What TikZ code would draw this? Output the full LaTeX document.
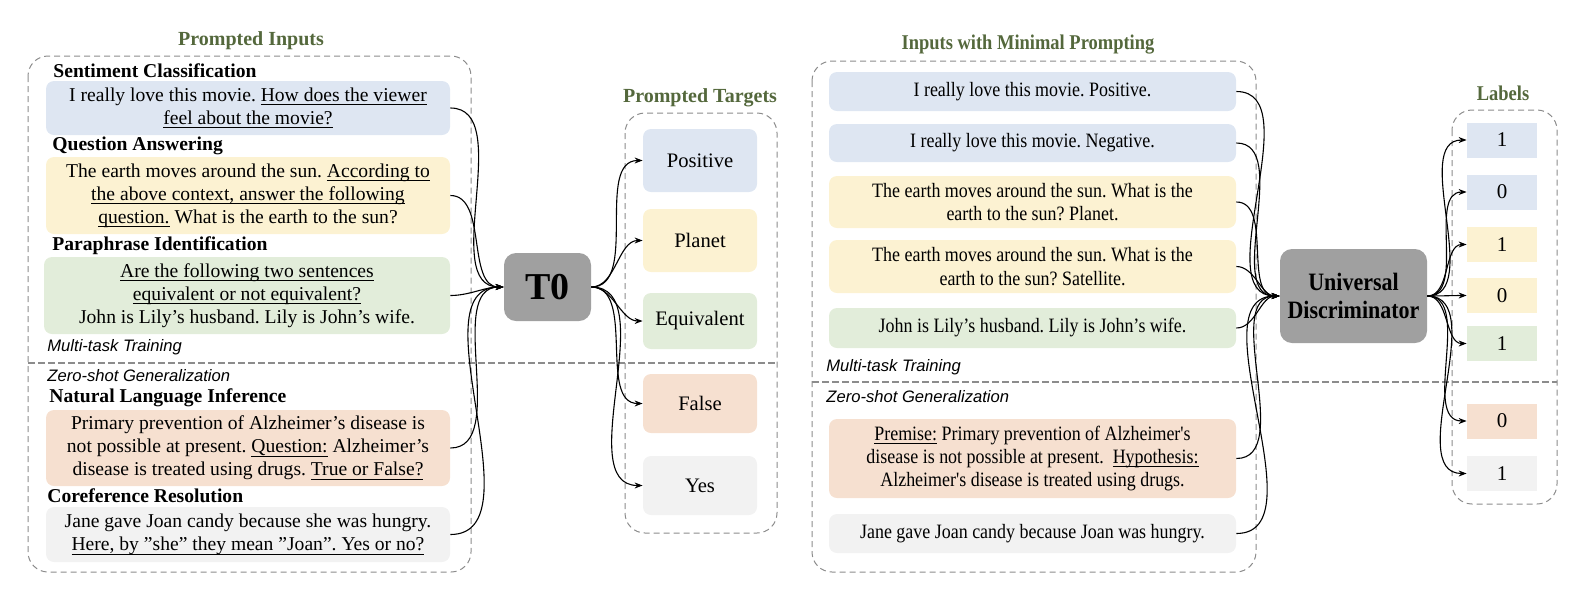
\documentclass[tikz,border=0pt]{standalone}
\usepackage{fontspec}
\setmainfont{Liberation Serif}[Ligatures=ResetAll]
\newfontfamily\cond{Liberation Serif}[FakeStretch=0.88,Ligatures=ResetAll]
\newfontfamily\sansit{Liberation Sans}
\newcommand\ulx[1]{\setbox0\hbox{#1}\rlap{\rule[-2.0pt]{\wd0}{0.5pt}}\box0\relax}
\usetikzlibrary{arrows.meta}
\definecolor{cblue}{RGB}{222,230,242}
\definecolor{cyel}{RGB}{252,242,210}
\definecolor{cgreen}{RGB}{226,237,218}
\definecolor{corange}{RGB}{246,224,208}
\definecolor{cgray}{RGB}{242,242,242}
\definecolor{ctitle}{RGB}{84,104,60}
\definecolor{cmodel}{RGB}{160,160,160}
\definecolor{cdash}{RGB}{140,140,140}
\tikzset{
  box/.style={fill=#1, rounded corners=4pt, align=center, inner sep=0pt,
    font=\fontsize{9.8}{11.6}\selectfont},
  rbox/.style={box=#1, font=\fontsize{10.2}{11.6}\selectfont\cond},
  lab/.style={fill=#1, inner sep=0pt, minimum width=35pt, minimum height=17.5pt,
    font=\fontsize{10.5}{12}\selectfont},
  head/.style={anchor=west, inner sep=0pt, font=\fontsize{9.8}{11}\selectfont\bfseries},
  ttl/.style={inner sep=0pt, text=ctitle, font=\fontsize{10}{12}\selectfont\bfseries},
  ttlr/.style={ttl, font=\fontsize{10.5}{12}\selectfont\bfseries\cond},
  note/.style={anchor=west, inner sep=0pt, font=\fontsize{8.3}{10}\selectfont\sansit\itshape},
  frame/.style={draw=cdash, dashed, dash pattern=on 3pt off 2pt, rounded corners=10pt, line width=0.5pt},
  sep/.style={draw=cdash, dash pattern=on 3.5pt off 1.5pt, line width=0.9pt},
  model/.style={fill=cmodel, rounded corners=6pt, align=center, inner sep=0pt},
  arr/.style={-{Stealth[length=4pt,width=3pt]}, line width=0.55pt}
}
\begin{document}
\frenchspacing
\begin{tikzpicture}[x=0.5pt,y=-0.5pt]
\useasboundingbox (0,0) rectangle (1581,596);
% ---------- left panel ----------
\draw[frame] (28,56) rectangle (471,572);
\draw[frame] (625,113) rectangle (777,533);
\draw[sep] (28,363) -- (777,363);
\node[ttl] (tpi) at (251,41) {Prompted Inputs};
\node[ttl] (tpt) at (700,98) {Prompted Targets};

\node[head] (h1) at (53,71) {Sentiment Classification};
\node[box=cblue, minimum width=202pt, minimum height=27pt] (b1) at (248,108)
  {I really love this movie. \ulx{How does the viewer}\\ \ulx{feel about the movie?}};
\node[head] (h2) at (52,146) {Question Answering};
\node[box=cyel, minimum width=202pt, minimum height=38.5pt] (b2) at (248,195.5)
  {The earth moves around the sun. \ulx{According to}\\ \ulx{the above context, answer the following}\\ \ulx{question.} What is the earth to the sun?};
\node[head] (h3) at (52,246) {Paraphrase Identification};
\node[box=cgreen, minimum width=203pt, minimum height=38.5pt] (b3) at (247,295.5)
  {\ulx{Are the following two sentences}\\ \ulx{equivalent or not equivalent?}\\ John is Lily’s husband. Lily is John’s wife.};
\node[note] (n1) at (47,347) {Multi-task Training};
\node[note] (n2) at (47,376) {Zero-shot Generalization};
\node[head] (h4) at (49,398) {Natural Language Inference};
\node[box=corange, minimum width=202pt, minimum height=38pt] (b4) at (248,448)
  {Primary prevention of Alzheimer's disease is\\ not possible at present. \ulx{Question:} Alzheimer's\\ disease is treated using drugs. \ulx{True or False?}};
\node[head] (h5) at (47,496) {Coreference Resolution};
\node[box=cgray, minimum width=202pt, minimum height=27.5pt] (b5) at (248,534.5)
  {Jane gave Joan candy because she was hungry.\\ \ulx{Here, by "she" they mean "Joan". Yes or no?}};

\node[model, minimum width=43.5pt, minimum height=34pt, font=\fontsize{19}{20}\selectfont\bfseries] (t0) at (547.5,287) {T0};

\node[box=cblue, minimum width=57pt, minimum height=31.5pt, font=\fontsize{10.3}{12}\selectfont] (o1) at (700,160.5) {Positive};
\node[box=cyel, minimum width=57pt, minimum height=31.5pt, font=\fontsize{10.3}{12}\selectfont] (o2) at (700,240.5) {Planet};
\node[box=cgreen, minimum width=57pt, minimum height=28pt, font=\fontsize{10.3}{12}\selectfont] (o3) at (700,321) {Equivalent};
\node[box=corange, minimum width=57pt, minimum height=29.5pt, font=\fontsize{10.3}{12}\selectfont] (o4) at (700,403.5) {False};
\node[box=cgray, minimum width=57pt, minimum height=29.5pt, font=\fontsize{10.3}{12}\selectfont] (o5) at (700,485.5) {Yes};

\foreach \b in {b1,b2,b3,b4,b5}
  \draw[arr] (\b.east) to[out=0,in=180,looseness=0.9] (t0.west);
\foreach \o in {o1,o2,o3,o4,o5}
  \draw[arr] (t0.east) to[out=0,in=180,looseness=0.9] (\o.west);

% ---------- right panel ----------
\draw[frame] (812,61) rectangle (1256,572);
\draw[frame] (1452,110) rectangle (1557,504);
\draw[sep] (812,382) -- (1557,382);
\node[ttlr] (tim) at (1028,45) {Inputs with Minimal Prompting};
\node[ttlr] (tlb) at (1503,93) {Labels};

\node[rbox=cblue, minimum width=203.5pt, minimum height=19.5pt] (r1) at (1032.5,91.5) {I really love this movie. Positive.};
\node[rbox=cblue, minimum width=203.5pt, minimum height=19pt] (r2) at (1032.5,143) {I really love this movie. Negative.};
\node[rbox=cyel, minimum width=203.5pt, minimum height=26pt] (r3) at (1032.5,202) {The earth moves around the sun. What is the\\ earth to the sun? Planet.};
\node[rbox=cyel, minimum width=203.5pt, minimum height=26.5pt] (r4) at (1032.5,266.5) {The earth moves around the sun. What is the\\ earth to the sun? Satellite.};
\node[rbox=cgreen, minimum width=203.5pt, minimum height=20pt] (r5) at (1032.5,328) {John is Lily’s husband. Lily is John’s wife.};
\node[note] (n3) at (826,367) {Multi-task Training};
\node[note] (n4) at (826,397) {Zero-shot Generalization};
\node[rbox=corange, minimum width=203.5pt, minimum height=39.5pt] (r6) at (1032.5,458.5) {\ulx{Premise:} Primary prevention of Alzheimer's\\ disease is not possible at present.\ \ \ulx{Hypothesis:}\\ Alzheimer's disease is treated using drugs.};
\node[rbox=cgray, minimum width=203.5pt, minimum height=19.5pt] (r7) at (1032.5,533.5) {Jane gave Joan candy because Joan was hungry.};

\node[model, minimum width=73.5pt, minimum height=47pt, font=\fontsize{12.5}{14}\selectfont\bfseries\cond] (ud) at (1353.5,296) {Universal\\ Discriminator};

\node[lab=cblue] (l1) at (1502,140) {1};
\node[lab=cblue] (l2) at (1502,192) {0};
\node[lab=cyel] (l3) at (1502,244.5) {1};
\node[lab=cyel] (l4) at (1502,295.5) {0};
\node[lab=cgreen] (l5) at (1502,343.5) {1};
\node[lab=corange] (l6) at (1502,421) {0};
\node[lab=cgray] (l7) at (1502,473.5) {1};

\foreach \r in {r1,r2,r3,r4,r5,r6,r7}
  \draw[arr] (\r.east) to[out=0,in=180,looseness=0.9] (ud.west);
\foreach \l in {l1,l2,l3,l4,l5,l6,l7}
  \draw[arr] (ud.east) to[out=0,in=180,looseness=0.9] (\l.west);
\end{tikzpicture}
\end{document}
